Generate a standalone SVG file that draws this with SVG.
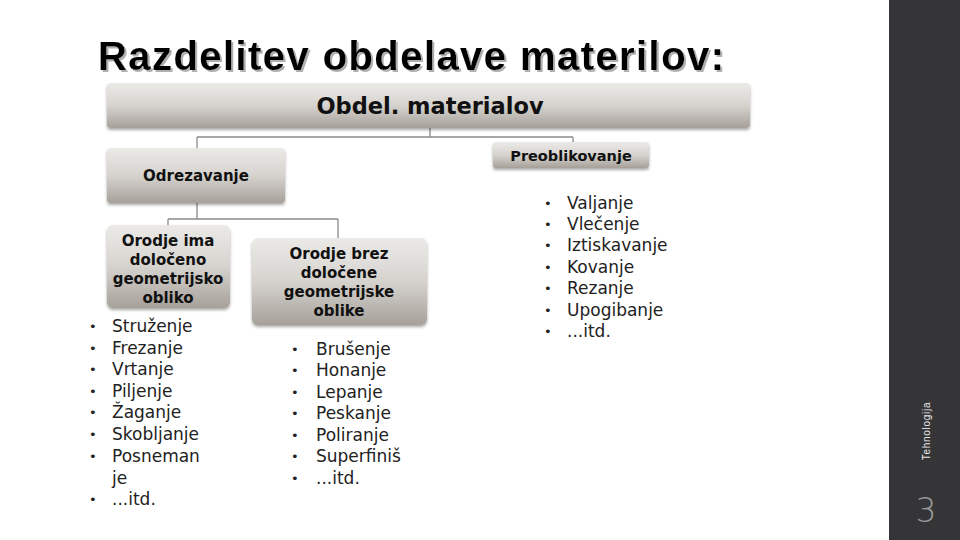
<svg xmlns="http://www.w3.org/2000/svg" width="960" height="540" viewBox="0 0 960 540">
<defs>
<linearGradient id="g" x1="0" y1="0" x2="0" y2="1">
<stop offset="0" stop-color="#eceae7"/>
<stop offset="0.5" stop-color="#d6d3cf"/>
<stop offset="1" stop-color="#a6a099"/>
</linearGradient>
<filter id="sh" x="-5%" y="-10%" width="110%" height="130%">
<feGaussianBlur in="SourceAlpha" stdDeviation="1.5"/>
<feOffset dx="0" dy="1.5"/>
<feComponentTransfer><feFuncA type="linear" slope="0.35"/></feComponentTransfer>
<feMerge><feMergeNode/><feMergeNode in="SourceGraphic"/></feMerge>
</filter>
<filter id="tsh" x="-2%" y="-10%" width="105%" height="130%">
<feOffset in="SourceAlpha" dx="2" dy="2" result="o"/>
<feFlood flood-color="#b0b0b0"/>
<feComposite in2="o" operator="in"/>
<feMerge><feMergeNode/><feMergeNode in="SourceGraphic"/></feMerge>
</filter>
</defs>
<style>
.box{fill:url(#g);filter:url(#sh);}
.bt{font-family:"DejaVu Sans",sans-serif;font-weight:bold;fill:#111;text-anchor:middle;}
.li{font-family:"DejaVu Sans",sans-serif;font-size:17px;fill:#222;}
.bu{font-family:"DejaVu Sans",sans-serif;font-size:13px;fill:#222;}
.cn{fill:none;stroke:#8a8a8a;stroke-width:1.3;}
</style>
<rect width="960" height="540" fill="#ffffff"/>
<rect x="889" y="0" width="71" height="540" fill="#353537"/>
<text x="930" y="431" transform="rotate(-90 930 431)" text-anchor="middle" font-family="'Liberation Sans',sans-serif" font-size="10" fill="#e8e8e8" letter-spacing="0.7">Tehnologija</text>
<text x="926" y="522" text-anchor="middle" font-family="'DejaVu Sans',sans-serif" font-size="33" font-weight="200" fill="#9a9a9a">3</text>
<g id="title">
<text x="98" y="70" font-family="'Liberation Sans',sans-serif" font-weight="bold" font-size="40" fill="#000" textLength="626" filter="url(#tsh)">Razdelitev obdelave materilov:</text>
</g>
<g id="connectors">
<path class="cn" d="M430 128V137M197 137H573M197 137V148M573 137V142"/>
<path class="cn" d="M197 203V219M168 219H338M168 219V225M338 219V238"/>
</g>
<g id="n-root">
<rect class="box" x="107" y="83" width="643" height="45" rx="4"/>
<text class="bt" x="430" y="114" font-size="22.5">Obdel. materialov</text>
</g>
<g id="n-odrezavanje">
<rect class="box" x="107" y="148" width="178" height="55" rx="4"/>
<text class="bt" x="196" y="181" font-size="15">Odrezavanje</text>
</g>
<g id="n-preoblikovanje">
<rect class="box" x="493" y="142" width="156" height="26" rx="3"/>
<text class="bt" x="571" y="161" font-size="14.5">Preoblikovanje</text>
</g>
<g id="n-dolocena">
<rect class="box" x="107" y="225" width="123" height="83" rx="6"/>
<text class="bt" x="168" y="246" font-size="15">Orodje ima</text>
<text class="bt" x="168" y="265" font-size="15">določeno</text>
<text class="bt" x="168" y="284" font-size="15">geometrijsko</text>
<text class="bt" x="168" y="303" font-size="15">obliko</text>
</g>
<g id="n-nedolocena">
<rect class="box" x="252" y="238" width="175" height="87" rx="6"/>
<text class="bt" x="339" y="259" font-size="15">Orodje brez</text>
<text class="bt" x="339" y="278" font-size="15">določene</text>
<text class="bt" x="339" y="297" font-size="15">geometrijske</text>
<text class="bt" x="339" y="316" font-size="15">oblike</text>
</g>
<g id="list-left">
<text class="bu" x="89" y="331">•</text><text class="li" x="112" y="332">Struženje</text>
<text class="bu" x="89" y="353">•</text><text class="li" x="112" y="354">Frezanje</text>
<text class="bu" x="89" y="374">•</text><text class="li" x="112" y="375">Vrtanje</text>
<text class="bu" x="89" y="396">•</text><text class="li" x="112" y="397">Piljenje</text>
<text class="bu" x="89" y="417">•</text><text class="li" x="112" y="418">Žaganje</text>
<text class="bu" x="89" y="439">•</text><text class="li" x="112" y="440">Skobljanje</text>
<text class="bu" x="89" y="461">•</text><text class="li" x="112" y="462">Posneman</text>
<text class="li" x="112" y="484">je</text>
<text class="bu" x="89" y="504">•</text><text class="li" x="112" y="505">...itd.</text>
</g>
<g id="list-middle">
<text class="bu" x="291" y="354">•</text><text class="li" x="316" y="355">Brušenje</text>
<text class="bu" x="291" y="375">•</text><text class="li" x="316" y="376">Honanje</text>
<text class="bu" x="291" y="397">•</text><text class="li" x="316" y="398">Lepanje</text>
<text class="bu" x="291" y="418">•</text><text class="li" x="316" y="419">Peskanje</text>
<text class="bu" x="291" y="440">•</text><text class="li" x="316" y="441">Poliranje</text>
<text class="bu" x="291" y="461">•</text><text class="li" x="316" y="462">Superfiniš</text>
<text class="bu" x="291" y="483">•</text><text class="li" x="316" y="484">...itd.</text>
</g>
<g id="list-right">
<text class="bu" x="544" y="208">•</text><text class="li" x="567" y="209">Valjanje</text>
<text class="bu" x="544" y="229">•</text><text class="li" x="567" y="230">Vlečenje</text>
<text class="bu" x="544" y="250">•</text><text class="li" x="567" y="251">Iztiskavanje</text>
<text class="bu" x="544" y="272">•</text><text class="li" x="567" y="273">Kovanje</text>
<text class="bu" x="544" y="293">•</text><text class="li" x="567" y="294">Rezanje</text>
<text class="bu" x="544" y="315">•</text><text class="li" x="567" y="316">Upogibanje</text>
<text class="bu" x="544" y="336">•</text><text class="li" x="567" y="337">...itd.</text>
</g>
</svg>
